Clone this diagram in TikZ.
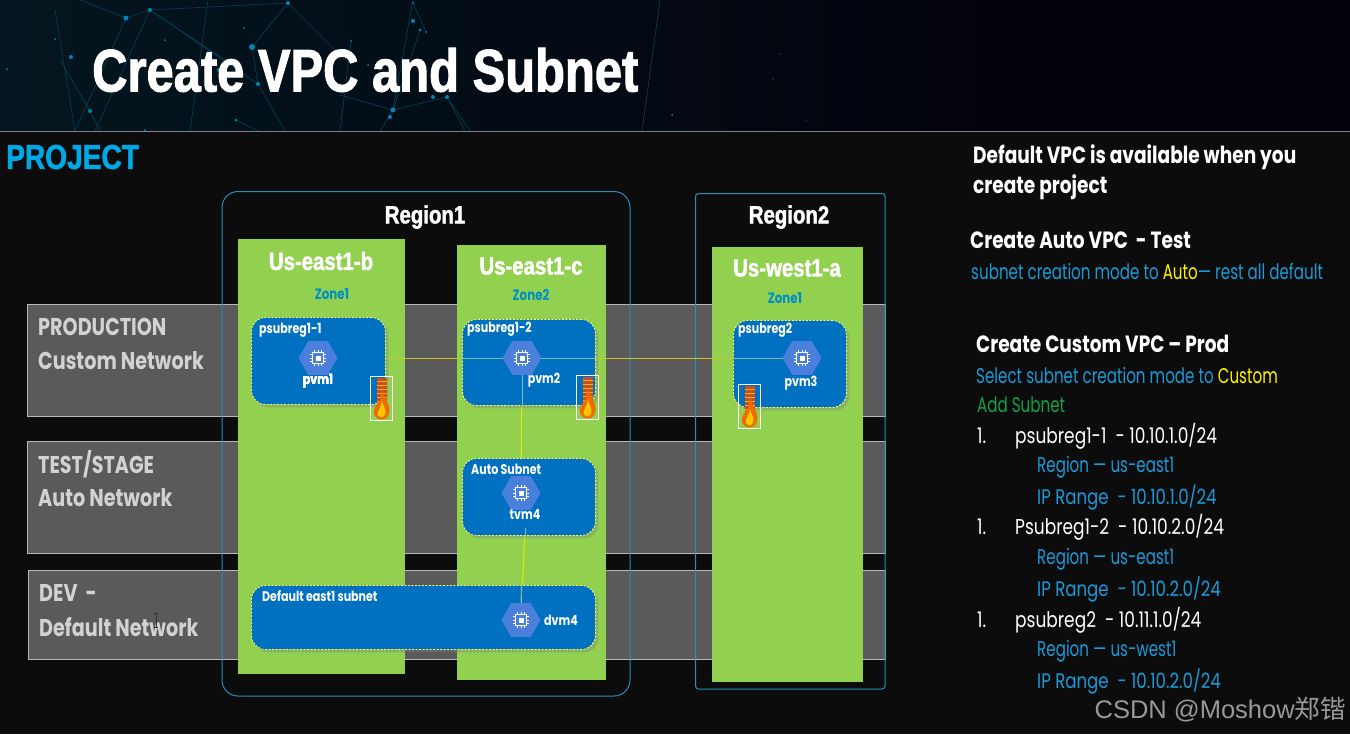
\documentclass[tikz,border=0pt]{standalone}
\usepackage{fontspec}
\usetikzlibrary{positioning,shapes.geometric,shadows,calc}
\newfontfamily\headfont[FakeStretch=0.815,FakeBold=1.6]{Liberation Sans}
\newfontfamily\bodyfont[FakeStretch=0.71]{Poppins}
\newfontfamily\widefont[FakeStretch=0.79]{Poppins}
\newfontfamily\markfont{Liberation Sans}
\newfontfamily\cjkfont{Noto Sans CJK SC}
\definecolor{pagebg}{HTML}{0C0C0C}
\definecolor{headleft}{HTML}{04161F}
\definecolor{headright}{HTML}{02020C}
\definecolor{skyblue}{HTML}{00A8E6}
\definecolor{textblue}{HTML}{1A9AD8}
\definecolor{bandgrey}{HTML}{5A5A5A}
\definecolor{bandedge}{HTML}{B8B8B8}
\definecolor{zonegreen}{HTML}{92D050}
\definecolor{subnetblue}{HTML}{0070C0}
\definecolor{hexblue}{HTML}{4A80DC}
\definecolor{regionedge}{HTML}{2C8DB8}
\definecolor{linkyellow}{HTML}{C6C62A}
\definecolor{linkteal}{HTML}{7FBDA8}
\definecolor{labelgrey}{HTML}{D2D2D2}
\definecolor{addgreen}{HTML}{12A04A}
\definecolor{brickred}{HTML}{C4502A}
\definecolor{flameorange}{HTML}{F26A00}
\definecolor{flameyellow}{HTML}{FFC800}
\tikzset{
  band/.style={draw=bandedge, fill=bandgrey, line width=1pt},
  regionbox/.style={draw=regionedge, line width=1pt},
  zonebox/.style={fill=zonegreen, anchor=north west, inner sep=0pt},
  subnet/.style={fill=subnetblue, draw=yellow!60!white, dashed, line width=0.9pt,
    dash pattern=on 2pt off 1.5pt, rounded corners=14pt, anchor=north west, inner sep=0pt,
    drop shadow={shadow xshift=3pt, shadow yshift=-3pt, opacity=0.35}},
  vmhex/.style={regular polygon, regular polygon sides=6, fill=hexblue, minimum size=39pt, inner sep=0pt},
  title/.style={white, font=\headfont\bfseries\fontsize{60}{60}\selectfont, anchor=west, inner sep=0pt},
  toplabel/.style={white, font=\headfont\bfseries\fontsize{25}{25}\selectfont, inner sep=0pt},
  zonelabel/.style={skyblue!85!black, font=\widefont\bfseries\fontsize{15}{15}\selectfont, inner sep=0pt},
  bandlabel/.style={labelgrey, font=\widefont\bfseries\fontsize{24.3}{25}\selectfont, anchor=west, inner sep=0pt},
  subnetlabel/.style={white, font=\widefont\bfseries\fontsize{14}{14}\selectfont, anchor=west, inner sep=0pt},
  notehead/.style={white, font=\widefont\bfseries\fontsize{23.5}{24}\selectfont, anchor=west, inner sep=0pt},
  noteline/.style={white, font=\widefont\fontsize{21.5}{22}\selectfont, anchor=west, inner sep=0pt},
  noteblue/.style={textblue, font=\bodyfont\fontsize{21.3}{22}\selectfont, anchor=west, inner sep=0pt},
  noterange/.style={textblue, font=\widefont\fontsize{21}{22}\selectfont, anchor=west, inner sep=0pt},
}
% firewall: brick column with a flame over it
\newcommand{\firewall}[2]{%
  \begin{scope}[shift={(#1,#2)}]
    \fill[brickred] (6.5,2) rectangle (16.5,34);
    \foreach \yy in {5,9,...,29}
      \draw[orange!60!yellow, line width=0.4pt] (6.5,\yy) -- (16.5,\yy);
    \fill[flameorange] (12,13) .. controls (13,20) and (19,26) .. (19.5,34)
      .. controls (19.5,40) and (16,43.5) .. (12,43.5)
      .. controls (7,43.5) and (3,40) .. (4,34)
      .. controls (5,30) and (7,30) .. (8,25)
      .. controls (9,30) and (11,22) .. (12,13) -- cycle;
    \fill[flameyellow] (12,25) .. controls (13,30) and (16,33) .. (15.5,37)
      .. controls (15,40) and (13,41.5) .. (11.5,41.5)
      .. controls (9,41.5) and (7,39) .. (8,36)
      .. controls (9,33) and (11,30) .. (12,25) -- cycle;
    \draw[white, line width=1pt] (0,0) rectangle (22.5,44);
  \end{scope}}
% chip glyph inside a vm hexagon
\newcommand{\chipicon}[1]{%
  \draw[white, line width=1pt] ($(#1)+(-5.5,-5.5)$) rectangle ($(#1)+(5.5,5.5)$);
  \fill[white] ($(#1)+(-2.5,-2.5)$) rectangle ($(#1)+(2.5,2.5)$);
  \foreach \dd in {-3.5,0,3.5} {
    \draw[white, line width=0.8pt] ($(#1)+(\dd,-8)$) -- ($(#1)+(\dd,-5.5)$);
    \draw[white, line width=0.8pt] ($(#1)+(\dd,5.5)$) -- ($(#1)+(\dd,8)$);
    \draw[white, line width=0.8pt] ($(#1)+(-8,\dd)$) -- ($(#1)+(-5.5,\dd)$);
    \draw[white, line width=0.8pt] ($(#1)+(5.5,\dd)$) -- ($(#1)+(8,\dd)$);
  }}
\begin{document}
\begin{tikzpicture}[x=1pt,y=-1pt]
  \useasboundingbox (0,0) rectangle (1350,734);
  % Page and header
  \fill[pagebg] (0,0) rectangle (1350,734);
  \shade[left color=headleft, right color=headright] (0,0) rectangle (1000,131);
  \fill[headright] (1000,0) rectangle (1350,131);
  \begin{scope}
    \clip (0,0) rectangle (1350,131);
    \foreach \xa/\ya/\xb/\yb in {126/18/75/131, 126/18/150/10, 150/10/288/3, 150/10/95/131,
        126/18/55/-10, 55/10/75/131, 150/10/258/84, 288/3/252/47, 252/47/258/84, 258/84/285/131,
        90/111/100/131, 90/111/60/60, 236/120/258/131, 208/0/190/131, 393/110/447/97,
        393/110/420/30, 393/110/380/131, 447/97/470/131, 413/3/426/32, 351/41/340/131,
        288/3/345/60, 413/0/393/110, 150/10/240/70, 393/110/340/95, 447/97/465/131, 660/0/642/131}
      \draw[skyblue!30!headleft, line width=0.6pt] (\xa,\ya) -- (\xb,\yb);
    \foreach \xa/\ya/\rr in {126/18/2.5, 150/10/2, 288/3/2, 55/39/1, 71/57/2, 7/69/1, 165/40/1,
        252/47/3, 219/70/2, 258/84/2, 90/111/2, 236/120/1.5, 145/130/1, 244/28/1, 351/41/1,
        368/65/1, 393/110/2.5, 433/97/2, 447/97/2, 390/117/2, 413/3/1, 413/21/2, 420/30/1.5,
        426/32/1, 672/115/1}
      \fill[skyblue!75!headleft] (\xa,\ya) circle (\rr);
    \foreach \xa/\ya in {773/79, 780/54, 806/121}
      \fill[skyblue!25!headleft] (\xa,\ya) circle (1);
  \end{scope}
  \draw[bandedge!70!black, line width=1pt] (0,131.5) -- (1350,131.5);
  \node[title] (maintitle) at (92,70) {Create VPC and Subnet};
  \node[skyblue, font=\headfont\bfseries\fontsize{34.5}{35}\selectfont, anchor=west, inner sep=0pt] (project) at (6,157) {PROJECT};

  % Network bands
  \draw[band] (27,304.5) rectangle (885,416);
  \draw[band] (27,441.5) rectangle (885,553);
  \draw[band] (28,570.5) rectangle (885,659);
  \node[bandlabel] (prodname) at (38,327) {PRODUCTION};
  \node[bandlabel] (prodtype) at (38,361) {Custom Network};
  \node[bandlabel] (testname) at (38,464) {TEST/STAGE};
  \node[bandlabel] (testtype) at (38,498) {Auto Network};
  \node[bandlabel] (devname) at (39,593) {DEV\ \ -};
  \node[bandlabel] (devtype) at (39,627) {Default Network};
  \draw[black!80, line width=0.7pt] (154,613) -- (158,613) (156,613) -- (156,627) (154,627) -- (158,627);

  % Regions
  \draw[regionbox, rounded corners=16pt] (222,191.5) rectangle (630,696);
  \draw[regionbox, rounded corners=3pt] (695.5,193.5) rectangle (885,689);
  \node[toplabel] (region1) at (425,217) {Region1};
  \node[toplabel] (region2) at (789,217) {Region2};

  % Zones
  \node[zonebox, minimum width=167pt, minimum height=435pt] (zoneb) at (238,239) {};
  \node[zonebox, minimum width=149pt, minimum height=435pt] (zonec) at (457,245) {};
  \node[zonebox, minimum width=151pt, minimum height=435pt] (zonea) at (712,247) {};
  \node[toplabel] (zonebname) at (321,261) {Us-east1-b};
  \node[toplabel] (zonecname) at (531,266) {Us-east1-c};
  \node[toplabel] (zoneaname) at (787,268) {Us-west1-a};
  \node[zonelabel] (zonebtag) at (332,294) {Zone1};
  \node[zonelabel] (zonectag) at (531,295) {Zone2};
  \node[zonelabel] (zoneatag) at (785,298) {Zone1};

  % Vm positions, set first so the links can go under the subnets
  \coordinate (pvma) at (318,358);
  \coordinate (pvmb) at (522,358);
  \coordinate (pvmc) at (802,358);
  \coordinate (tvmd) at (521,493);
  \coordinate (dvmd) at (521,620);

  % Links
  \draw[linkyellow, line width=1pt] (pvma) -- (pvmb);
  \draw[linkyellow, line width=1pt] (pvmb) -- (pvmc);
  \draw[yellow!85!green, line width=1.2pt] (pvmb) -- (tvmd);
  \coordinate (tvmfoot) at (525,528);
  \draw[yellow!85!green, line width=1.2pt] (tvmfoot) -- (dvmd);

  % Subnets
  \node[subnet, minimum width=134pt, minimum height=87pt] (subnetaa) at (251,317) {};
  \node[subnet, minimum width=133pt, minimum height=86pt] (subnetab) at (462,319) {};
  \node[subnet, minimum width=113pt, minimum height=87pt] (subnetb) at (733,320) {};
  \node[subnet, minimum width=133pt, minimum height=77pt] (subnetauto) at (462,458) {};
  \node[subnet, minimum width=344pt, minimum height=64pt] (subnetdef) at (251,585) {};
  \node[subnetlabel] (subnetaaname) at (259,330) {psubreg1-1};
  \node[subnetlabel] (subnetabname) at (467,329) {psubreg1-2};
  \node[subnetlabel] (subnetbname) at (738,330) {psubreg2};
  \node[subnetlabel] (subnetautoname) at (471,469) {Auto Subnet};
  \node[subnetlabel] (subnetdefname) at (262,596) {Default east1 subnet};

  % Links seen through the subnets
  \draw[linkteal, line width=1pt] (subnetab.west |- pvmb) -- (pvmb);
  \draw[linkteal, line width=1pt] (pvmb) -- (subnetab.east |- pvmb);
  \draw[linkteal, line width=1pt] (subnetb.west |- pvmc) -- (pvmc);
  \draw[linkteal, line width=1pt] (pvmb) -- (pvmb |- subnetab.south);
  \draw[linkteal, line width=1pt] (tvmfoot) -- (tvmfoot |- subnetauto.south);
  \draw[linkteal, line width=1.2pt] (dvmd) -- ($(dvmd)+(0.5,-35)$);

  % Vms
  \node[vmhex] (pvm1) at (pvma) {};
  \node[vmhex] (pvm2) at (pvmb) {};
  \node[vmhex] (pvm3) at (pvmc) {};
  \node[vmhex] (tvm4) at (tvmd) {};
  \node[vmhex] (dvm4) at (dvmd) {};
  \foreach \vm in {pvm1,pvm2,pvm3,tvm4,dvm4}
    \chipicon{\vm}
  \node[subnetlabel, anchor=center] (pvm1name) at (318,381) {pvm1};
  \node[subnetlabel, anchor=center] (pvm2name) at (544,380) {pvm2};
  \node[subnetlabel, anchor=center] (pvm3name) at (801,383) {pvm3};
  \node[subnetlabel, anchor=center] (tvm4name) at (525,514) {tvm4};
  \node[subnetlabel, anchor=center] (dvm4name) at (561,620) {dvm4};

  % Firewalls
  \firewall{370}{376}
  \firewall{576}{375}
  \firewall{738}{384}

  % Notes
  \node[notehead] (notedefa) at (973,157) {Default VPC is available when you};
  \node[notehead] (notedefb) at (973,187) {create project};
  \node[notehead] (noteauto) at (970,240) {Create Auto VPC\ \ - Test};
  \node[noteblue] (noteautomode) at (971,271) {subnet creation mode to \textcolor{yellow}{Auto}— rest all default};
  \node[notehead] (notecustom) at (976,344) {Create Custom VPC – Prod};
  \node[noteblue] (notecustommode) at (976,375) {Select subnet creation mode to \textcolor{yellow}{Custom}};
  \node[noteblue, addgreen] (noteadd) at (977,405) {Add Subnet};
  \foreach \yy/\txt in {436/psubreg1-1\ \ - 10.10.1.0\slash 24, 527/Psubreg1-2\ \ - 10.10.2.0\slash 24, 620/psubreg2\ \ - 10.11.1.0\slash 24} {
    \node[noteline] at (977,\yy) {1.};
    \node[noteline] at (1015,\yy) {\txt};
  }
  \foreach \yy/\txt in {467/Region — us-east1, 559/Region — us-east1, 651/Region — us-west1}
    \node[noteblue] at (1037,\yy) {\txt};
  \foreach \yy/\txt in {497/IP Range\ \ - 10.10.1.0\slash 24, 589/IP Range\ \ - 10.10.2.0\slash 24, 681/IP Range\ \ - 10.10.2.0\slash 24}
    \node[noterange] at (1037,\yy) {\txt};

  % Watermark
  \node[black!40, font=\markfont\fontsize{25.5}{26}\selectfont, anchor=east, inner sep=0pt] (watermark) at (1346,710) {CSDN @Moshow{\cjkfont 郑锴}};
\end{tikzpicture}
\end{document}
